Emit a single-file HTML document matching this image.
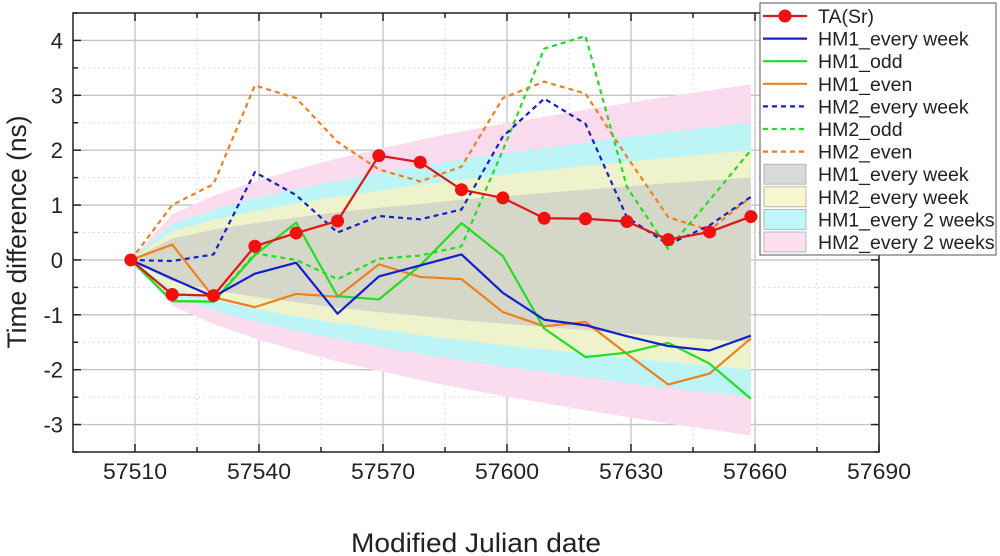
<!DOCTYPE html>
<html><head><meta charset="utf-8"><style>
html,body{margin:0;padding:0;background:#fff;}
svg{display:block;font-family:"Liberation Sans",sans-serif;}
</style></head><body>
<svg id="chart" width="1000" height="556" viewBox="0 0 1000 556"></svg>
<script>
const days=[57509,57519,57529,57539,57549,57559,57569,57579,57589,57599,57609,57619,57629,57639,57649,57659];
const taSr=[0,-0.63,-0.65,0.25,0.49,0.71,1.9,1.78,1.28,1.13,0.76,0.75,0.7,0.37,0.51,0.79];
const hm1Week=[0,-0.34,-0.67,-0.25,-0.05,-0.98,-0.3,-0.1,0.1,-0.6,-1.09,-1.19,-1.39,-1.57,-1.65,-1.38];
const hm1Odd=[0,-0.75,-0.76,0.09,0.68,-0.66,-0.72,-0.1,0.67,0.07,-1.25,-1.77,-1.69,-1.51,-1.89,-2.53];
const hm1Even=[0,0.28,-0.68,-0.86,-0.62,-0.67,-0.08,-0.31,-0.35,-0.95,-1.21,-1.13,-1.71,-2.27,-2.07,-1.43];
const hm2Week=[0,-0.02,0.1,1.6,1.18,0.5,0.8,0.74,0.92,2.25,2.94,2.48,0.78,0.28,0.63,1.15];
const hm2Odd=[0,-0.75,-0.76,0.12,0,-0.35,0.02,0.08,0.25,2.0,3.85,4.08,1.33,0.2,1.09,2.0];
const hm2Even=[0,1.0,1.38,3.18,2.95,2.15,1.65,1.43,1.7,2.95,3.25,3.03,1.88,0.78,0.54,1.15];
const bandHm1Week=[0,0.39,0.55,0.67,0.77,0.87,0.95,1.02,1.1,1.16,1.22,1.28,1.34,1.4,1.45,1.5];
const bandHm2Week=[0,0.52,0.73,0.89,1.03,1.15,1.26,1.37,1.46,1.55,1.63,1.71,1.79,1.86,1.93,2.0];
const bandHm1Two=[0,0.65,0.91,1.12,1.29,1.44,1.58,1.71,1.83,1.94,2.04,2.14,2.24,2.33,2.42,2.5];
const bandHm2Two=[0,0.83,1.17,1.43,1.65,1.85,2.02,2.19,2.34,2.48,2.61,2.74,2.86,2.98,3.09,3.2];
const xTicks=[57510,57540,57570,57600,57630,57660,57690];
const yTicks=[-3,-2,-1,0,1,2,3,4];

const NS="http://www.w3.org/2000/svg";
const svg=document.getElementById('chart');
const L=73,R=879,T=13,B=452,X0=57495,X1=57690,Y0=-3.5,Y1=4.5;
const xs=d=>L+(d-X0)/(X1-X0)*(R-L);
const ys=v=>B-(v-Y0)/(Y1-Y0)*(B-T);
function mk(tag,attrs,parent){const e=document.createElementNS(NS,tag);for(const k in attrs)e.setAttribute(k,attrs[k]);(parent||svg).appendChild(e);return e;}

const grid=mk('g',{});


for(let d=57510;d<=57690;d+=15){const major=(d-57510)%30===0;
 mk('line',{x1:xs(d),x2:xs(d),y1:T,y2:B,stroke:major?'#c4c4c4':'#dddddd','stroke-width':major?1.3:1,'stroke-dasharray':major?'':'2,3'},grid);}
for(let v=-3.5;v<=4.5;v+=0.5){const major=Math.abs(v-Math.round(v))<1e-6;
 mk('line',{x1:L,x2:R,y1:ys(v),y2:ys(v),stroke:major?'#c4c4c4':'#dddddd','stroke-width':major?1.3:1,'stroke-dasharray':major?'':'2,3'},grid);}

function band(w,color,name){
 let p='M'+xs(days[0])+','+ys(0);
 days.forEach((d,i)=>p+=' L'+xs(d)+','+ys(w[i]));
 for(let i=days.length-1;i>=0;i--)p+=' L'+xs(days[i])+','+ys(-w[i]);
 const e=mk('path',{d:p+'Z',fill:color,stroke:'none'});
 
 
}
band(bandHm2Two,'#fadcee','band-hm2-every-2-weeks');
band(bandHm1Two,'#bdf5f7','band-hm1-every-2-weeks');
band(bandHm2Week,'#eff3cc','band-hm2-every-week');
band(bandHm1Week,'#d5d7c8','band-hm1-every-week');

function series(vals,color,dash,name,w){
 const pts=days.map((d,i)=>xs(d)+','+ys(vals[i])).join(' ');
 const e=mk('polyline',{points:pts,fill:'none',stroke:color,'stroke-width':w||2.2,'stroke-dasharray':dash||'','stroke-linejoin':'round'});
 
 
}
series(hm2Even,'#f07f1e','5,4','line-hm2-even');
series(hm2Odd,'#22dd22','5,4','line-hm2-odd');
series(hm2Week,'#1020cc','5,4','line-hm2-every-week');
series(hm1Even,'#f07f1e','','line-hm1-even');
series(hm1Odd,'#22dd22','','line-hm1-odd');
series(hm1Week,'#1020cc','','line-hm1-every-week');
series(taSr,'#e01515','','line-ta-sr');
days.forEach((d,i)=>{const c=mk('circle',{cx:xs(d),cy:ys(taSr[i]),r:6.5,fill:'#f01010'});
 
 });

const fr=mk('rect',{x:L,y:T,width:R-L,height:B-T,fill:'none',stroke:'#222','stroke-width':1.5});


for(let d=57510;d<=57690;d+=15){const major=(d-57510)%30===0,l=major?8:5;
 mk('line',{x1:xs(d),x2:xs(d),y1:B,y2:B-l,stroke:'#222','stroke-width':1.5});
 mk('line',{x1:xs(d),x2:xs(d),y1:T,y2:T+l,stroke:'#222','stroke-width':1.5});}
for(let v=-3.5;v<=4.5;v+=0.5){const major=Math.abs(v-Math.round(v))<1e-6,l=major?8:5;
 mk('line',{x1:L,x2:L+l,y1:ys(v),y2:ys(v),stroke:'#222','stroke-width':1.5});
 mk('line',{x1:R,x2:R-l,y1:ys(v),y2:ys(v),stroke:'#222','stroke-width':1.5});}
xTicks.forEach(t=>{const e=mk('text',{x:xs(t),y:479,'text-anchor':'middle','font-size':22,fill:'#222',textLength:64,lengthAdjust:'spacingAndGlyphs'});e.textContent=t;
 
 });
yTicks.forEach(t=>{const e=mk('text',{x:63,y:ys(t)+8,'text-anchor':'end','font-size':22,fill:'#222'});e.textContent=t;
 
 });
const xt=mk('text',{x:476,y:552,'text-anchor':'middle','font-size':27,fill:'#222',textLength:250,lengthAdjust:'spacingAndGlyphs'});xt.textContent='Modified Julian date';


const yt=mk('text',{x:0,y:0,'text-anchor':'middle','font-size':27,fill:'#222',transform:'translate(26,232) rotate(-90)',textLength:233,lengthAdjust:'spacingAndGlyphs'});yt.textContent='Time difference (ns)';



const lg=mk('g',{});


mk('rect',{x:760,y:3,width:236,height:252,fill:'#fff',stroke:'#555','stroke-width':1},lg);
const items=[['TA(Sr)','#e01515','','marker'],['HM1_every week','#1020cc',''],['HM1_odd','#22dd22',''],['HM1_even','#f07f1e',''],
['HM2_every week','#1020cc','5,4'],['HM2_odd','#22dd22','5,4'],['HM2_even','#f07f1e','5,4'],
['HM1_every week','#d9d9d9','','fill'],['HM2_every week','#f8f6cc','','fill'],['HM1_every 2 weeks','#bdf7f9','','fill'],['HM2_every 2 weeks','#fde0ef','','fill']];
items.forEach((it,i)=>{const cy=16+i*22.6;
 const g=mk('g',{},lg);
 
 
 if(it[3]==='fill'){mk('rect',{x:764,y:cy-10,width:42,height:20,fill:it[1],stroke:'#aaa','stroke-width':0.8},g);}
 else{mk('line',{x1:763,x2:807,y1:cy,y2:cy,stroke:it[1],'stroke-width':2.2,'stroke-dasharray':it[2]},g);
  if(it[3]==='marker')mk('circle',{cx:785,cy:cy,r:6.5,fill:'#f01010'},g);}
 const t=mk('text',{x:818,y:cy+7,'font-size':19.5,fill:'#222'},g);t.textContent=it[0];});
</script>
</body></html>
